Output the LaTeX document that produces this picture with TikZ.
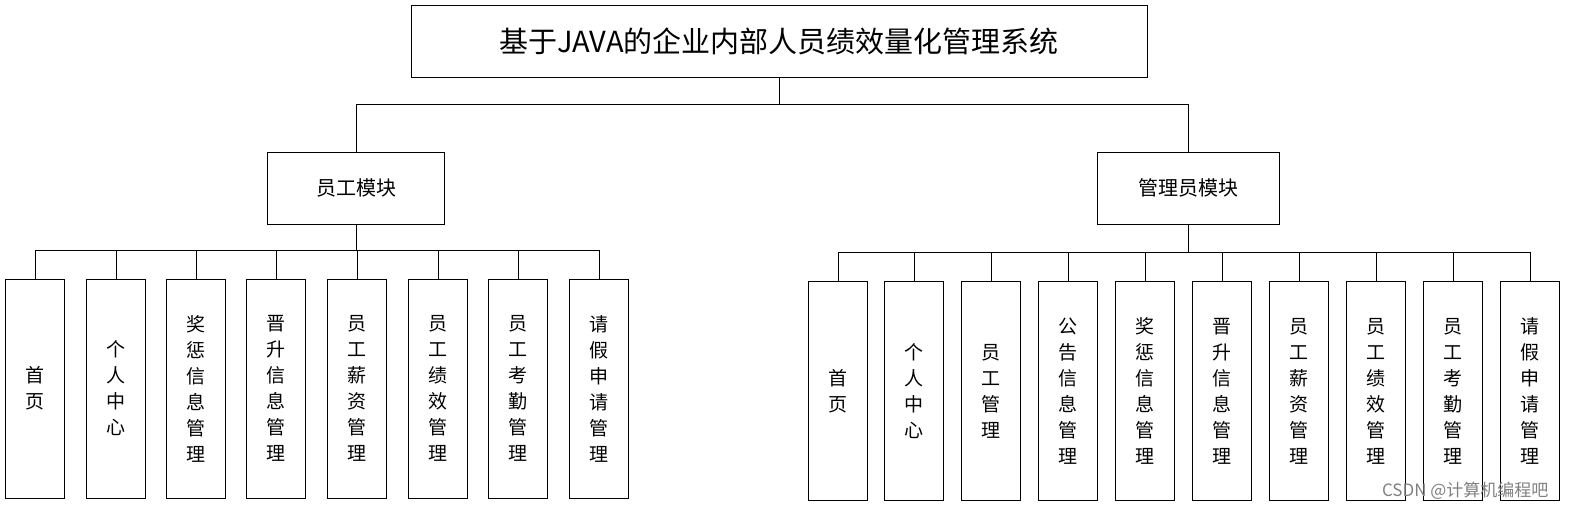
\documentclass[tikz,border=0pt]{standalone}
\usepackage{fontspec}
\newfontfamily\cjk{Noto Sans CJK SC}
\begin{document}
\begin{tikzpicture}[x=1pt,y=-1pt]
\tikzset{box/.style={draw,thick,inner sep=0pt,font=\cjk},
  leaf/.style={box,minimum width=59pt,minimum height=219pt,align=center,font=\cjk\fontsize{19}{26}\selectfont}}
\useasboundingbox (0,0) rectangle (1573,510);
\node[box,minimum width=736pt,minimum height=72pt,font=\cjk\fontsize{29}{32}\selectfont] (root) at (779,41) {基于JAVA的企业内部人员绩效量化管理系统};
\node[box,minimum width=177pt,minimum height=72pt,font=\cjk\fontsize{20}{24}\selectfont] (emp) at (356,188) {员工模块};
\node[box,minimum width=182pt,minimum height=72pt,font=\cjk\fontsize{20}{24}\selectfont] (adm) at (1188,188) {管理员模块};
\draw[thick] (root.south) -- (779,104) -| (emp.north);
\draw[thick] (779,104) -| (adm.north);
% employee leaves
\foreach \x/\t [count=\i] in {35/首\\页, 116/个\\人\\中\\心, 196/奖\\惩\\信\\息\\管\\理,
  276/晋\\升\\信\\息\\管\\理, 357/员\\工\\薪\\资\\管\\理, 438/员\\工\\绩\\效\\管\\理,
  518/员\\工\\考\\勤\\管\\理, 599/请\\假\\申\\请\\管\\理} {
  \node[leaf] (e\i) at (\x,388.5) {\t};
  \draw[thick] (emp.south) -- (356,250) -| (e\i.north);
}
% admin leaves
\foreach \x/\t [count=\i] in {838/首\\页, 914/个\\人\\中\\心, 991/员\\工\\管\\理,
  1068/公\\告\\信\\息\\管\\理, 1145/奖\\惩\\信\\息\\管\\理, 1222/晋\\升\\信\\息\\管\\理,
  1299/员\\工\\薪\\资\\管\\理, 1376/员\\工\\绩\\效\\管\\理, 1453/员\\工\\考\\勤\\管\\理,
  1530/请\\假\\申\\请\\管\\理} {
  \node[leaf] (a\i) at (\x,391) {\t};
  \draw[thick] (adm.south) -- (1188,252) -| (a\i.north);
}
\node[font=\cjk\fontsize{17}{19}\selectfont,text=gray,anchor=east] (mark) at (1552,491) {CSDN @计算机编程吧};
\end{tikzpicture}
\end{document}
